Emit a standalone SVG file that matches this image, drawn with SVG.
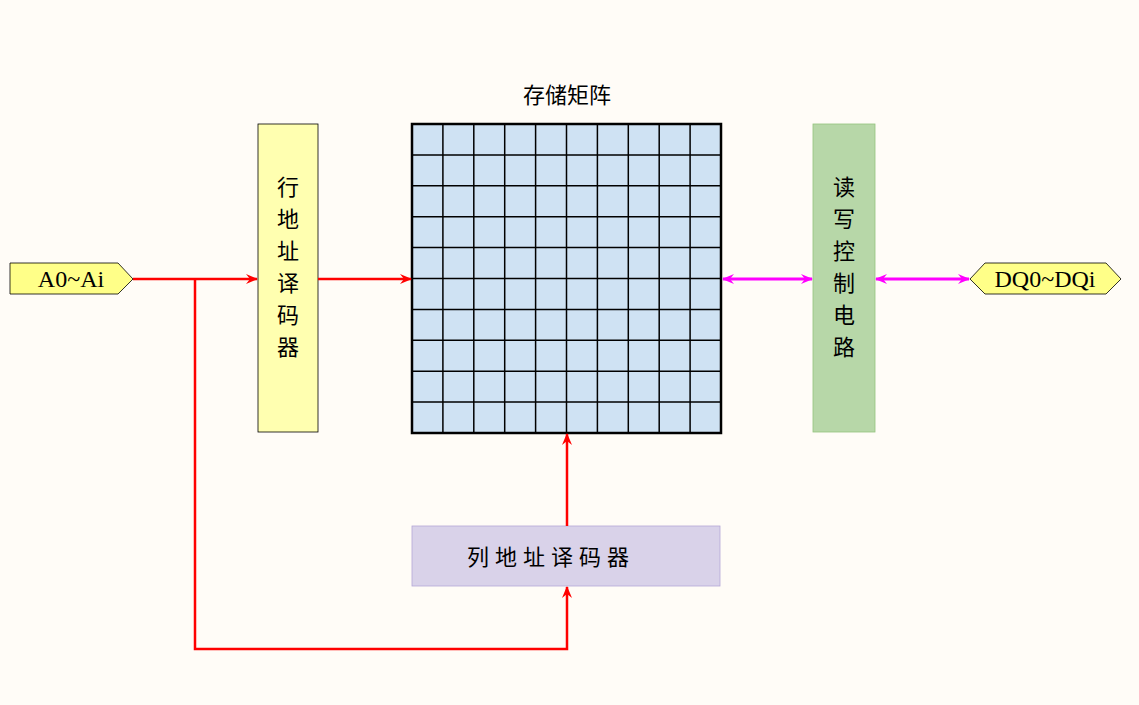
<svg xmlns="http://www.w3.org/2000/svg" width="1139" height="705" viewBox="0 0 1139 705">
<style>
.t{font-family:"Noto Sans CJK SC","Noto Sans",sans-serif;font-size:22px;fill:#000}
.s{font-family:"Liberation Serif",serif;font-size:24px;fill:#000}
.r{stroke:#ff0000;stroke-width:2.5;fill:none}
.m{stroke:#ff00ff;stroke-width:3;fill:none}
.g{stroke:#000;stroke-width:1.5}
</style>
<defs>
<marker id="ar" viewBox="0 0 12 10" refX="11" refY="5" markerWidth="12" markerHeight="10" markerUnits="userSpaceOnUse" orient="auto-start-reverse"><path d="M0,0 L12,5 L0,10 L4,5 Z" fill="#ff0000"/></marker>
<marker id="am" viewBox="0 0 12 10" refX="11" refY="5" markerWidth="12" markerHeight="10" markerUnits="userSpaceOnUse" orient="auto-start-reverse"><path d="M0,0 L12,5 L0,10 L4,5 Z" fill="#ff00ff"/></marker>
</defs>
<rect width="1139" height="705" fill="#fffcf7"/>
<g id="inA"><path d="M10,263 H118 L133,279 L118,294 H10 Z" fill="#ffff88" stroke="#000" stroke-width="0.8"/><text class="s" x="71" y="287" text-anchor="middle">A0~Ai</text></g>
<g id="outDQ"><path d="M985,263 H1106 L1121,279 L1106,294 H985 L970,279 Z" fill="#ffff88" stroke="#000" stroke-width="0.8"/><text class="s" x="1045" y="287" text-anchor="middle">DQ0~DQi</text></g>
<g id="rowdec"><rect x="258" y="124" width="60" height="308" fill="#ffffb0" stroke="#000" stroke-width="0.8"/>
<text class="t" x="288" text-anchor="middle"><tspan x="288" y="195">行</tspan><tspan x="288" y="227">地</tspan><tspan x="288" y="259">址</tspan><tspan x="288" y="291">译</tspan><tspan x="288" y="323">码</tspan><tspan x="288" y="355">器</tspan></text></g>
<g id="rw"><rect x="813" y="124" width="62" height="308" fill="#b7d7a8" stroke="#93c47d" stroke-width="0.8"/>
<text class="t" x="844" text-anchor="middle"><tspan x="844" y="195">读</tspan><tspan x="844" y="227">写</tspan><tspan x="844" y="259">控</tspan><tspan x="844" y="291">制</tspan><tspan x="844" y="323">电</tspan><tspan x="844" y="355">路</tspan></text></g>
<g id="coldec"><rect x="412" y="526" width="308" height="60" fill="#d9d2e9" stroke="#b4a7d6" stroke-width="0.8"/><text class="t" x="551" y="565" text-anchor="middle" letter-spacing="6">列地址译码器</text></g>
<g id="matrix"><text class="t" x="567" y="103" text-anchor="middle" font-size="24">存储矩阵</text>
<rect x="412" y="124" width="309" height="309" fill="#cfe2f3"/>
<path class="g" d="M442.9,124V433M473.8,124V433M504.7,124V433M535.6,124V433M566.5,124V433M597.4,124V433M628.3,124V433M659.2,124V433M690.1,124V433M412,154.9H721M412,185.8H721M412,216.7H721M412,247.6H721M412,278.5H721M412,309.4H721M412,340.3H721M412,371.2H721M412,402.1H721"/>
<rect x="412" y="124" width="309" height="309" fill="none" stroke="#000" stroke-width="2.5"/></g>
<g id="connectors">
<path class="r" d="M133,279 H257" marker-end="url(#ar)"/>
<path class="r" d="M318,279 H411" marker-end="url(#ar)"/>
<path class="r" d="M195,279 V649 H567 V587" marker-end="url(#ar)"/>
<path class="r" d="M567,526 V434" marker-end="url(#ar)"/>
<path class="m" d="M723,279 H812" marker-start="url(#am)" marker-end="url(#am)"/>
<path class="m" d="M876,279 H969" marker-start="url(#am)" marker-end="url(#am)"/>
</g>
</svg>
